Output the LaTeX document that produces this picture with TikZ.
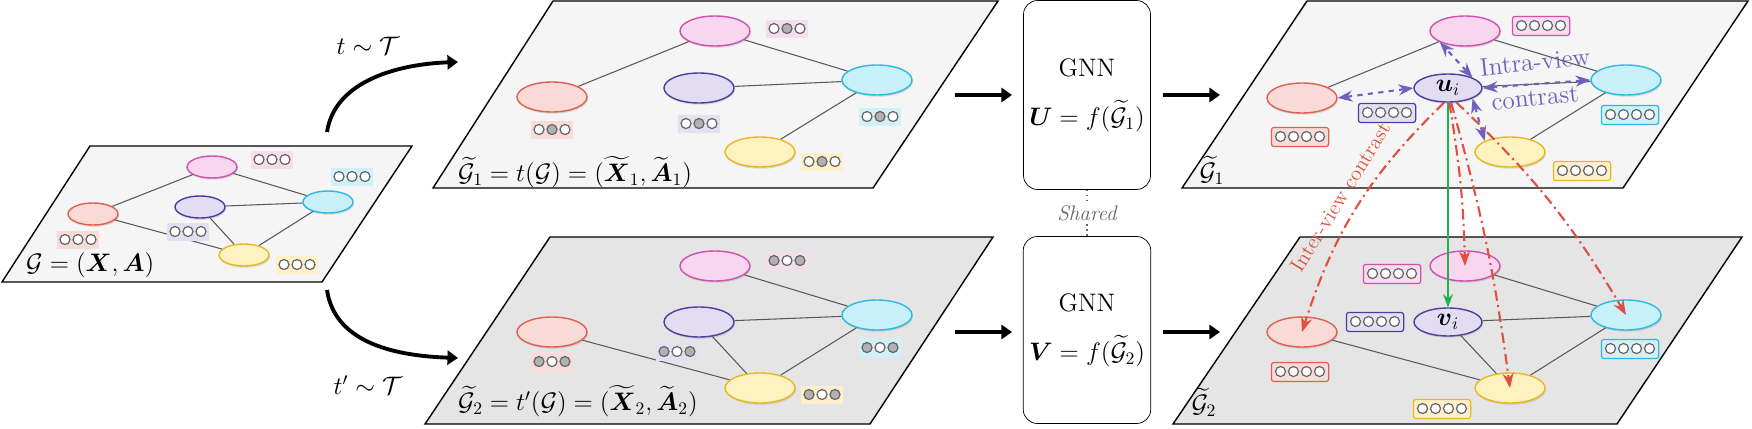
\documentclass[tikz,border=0pt]{standalone}
\usepackage{amsmath}
\usepackage{amssymb}
\usepackage{tikz}
\usetikzlibrary{arrows.meta, calc, shapes.geometric, shadows}

\definecolor{redB}{HTML}{E06050}   \definecolor{redF}{HTML}{FADAD6}  \definecolor{redL}{HTML}{F8DCDA}
\definecolor{pinkB}{HTML}{D050B0}  \definecolor{pinkF}{HTML}{F8D6EE} \definecolor{pinkL}{HTML}{F6DDEE}
\definecolor{purpB}{HTML}{4A3FA0}  \definecolor{purpF}{HTML}{E2DDF2} \definecolor{purpL}{HTML}{E4E0F0}
\definecolor{cyanB}{HTML}{30B8E0}  \definecolor{cyanF}{HTML}{C8F0FB} \definecolor{cyanL}{HTML}{D0F0FA}
\definecolor{yellB}{HTML}{E8B820}  \definecolor{yellF}{HTML}{FFF2C0} \definecolor{yellL}{HTML}{FFF0CC}
\definecolor{intraC}{HTML}{7060C0} \definecolor{interC}{HTML}{E05040} \definecolor{greenC}{HTML}{20B050}
\colorlet{w}{white} \colorlet{g}{black!30}

\newcommand\circrow[1]{\tikz[baseline=-0.6ex]\foreach \c [count=\k] in {#1} \draw[black!60, fill=\c, line width=0.7pt] (\k*0.26cm,0) circle (0.1cm);}

\tikzset{
  panel/.style={draw=black, line width=0.8pt},
  gnode/.style={ellipse, draw=#1B, fill=#1F, line width=0.8pt, minimum width=1.4cm, minimum height=0.6cm, inner sep=0pt,
    drop shadow={opacity=0.25, shadow xshift=0.5pt, shadow yshift=-1pt}},
  snode/.style={gnode=#1, minimum width=1cm, minimum height=0.44cm},
  feat/.style={fill=#1L, inner sep=1.5pt},
  featb/.style={draw=#1B, fill=#1L, rounded corners=1.5pt, line width=0.7pt, inner sep=2pt},
  edge/.style={black!65, line width=0.6pt},
  bigarrow/.style={line width=2.2pt, -{Triangle[length=6pt, width=8pt]}},
  intra/.style={intraC, dashed, line width=1.2pt, {Stealth}-{Stealth}},
  inter/.style={interC, line width=1.2pt, dash pattern=on 6pt off 2.5pt on 1.2pt off 2.5pt, -{Stealth}},
}

\begin{document}
\begin{tikzpicture}[x=0.02cm, y=-0.02cm, font=\Large]
\useasboundingbox (0,0) rectangle (1752,429);

% input graph
\draw[panel, fill=black!4] (90,146) -- (412,146) -- (322,282) -- (2,282) -- cycle;
\node[snode=pink] (p0) at (212,167) {};
\node[snode=red]  (r0) at (93,214) {};
\node[snode=purp] (m0) at (200,207) {};
\node[snode=cyan] (c0) at (328,202) {};
\node[snode=yell] (y0) at (244,255) {};
\draw[edge] (r0) -- (p0) (r0) -- (y0) (m0) -- (c0) (m0) -- (y0) (p0) -- (c0) (y0) -- (c0);
\node[feat=pink] at (272,160) {\circrow{w,w,w}};
\node[feat=red]  at (78,240)  {\circrow{w,w,w}};
\node[feat=purp] at (188,232) {\circrow{w,w,w}};
\node[feat=cyan] at (352,177) {\circrow{w,w,w}};
\node[feat=yell] at (297,265) {\circrow{w,w,w}};
\node[anchor=west] (t0) at (20,265) {$\mathcal{G} = (\boldsymbol{X}, \boldsymbol{A})$};

% augmentations
\coordinate (a1s) at (327,132); \coordinate (a1e) at (458,62);
\coordinate (a2s) at (327,290); \coordinate (a2e) at (458,358);
\draw[bigarrow] (a1s) .. controls (335,80) and (400,64) .. (a1e);
\draw[bigarrow] (a2s) .. controls (335,345) and (400,356) .. (a2e);
\node (ta) at (368,46) {$t \sim \mathcal{T}$};
\node (tb) at (368,385) {$t' \sim \mathcal{T}$};

% view 1
\draw[panel, fill=black!4] (553,1) -- (998,1) -- (873,188) -- (433,188) -- cycle;
\node[gnode=pink] (p1) at (715,31) {};
\node[gnode=red]  (r1) at (552,97) {};
\node[gnode=purp] (m1) at (699,88) {};
\node[gnode=cyan] (c1) at (877,80) {};
\node[gnode=yell] (y1) at (760,152) {};
\draw[edge] (r1) -- (p1) (p1) -- (c1) (m1) -- (c1) (y1) -- (c1);
\node[feat=pink] at (787,29)  {\circrow{w,g,w}};
\node[feat=red]  at (552,130) {\circrow{w,g,w}};
\node[feat=purp] at (699,124) {\circrow{w,g,w}};
\node[feat=cyan] at (880,117) {\circrow{w,g,w}};
\node[feat=yell] at (822,162) {\circrow{w,g,w}};
\node[anchor=west] (t1) at (452,172) {$\widetilde{\mathcal{G}}_1 = t(\mathcal{G}) = (\widetilde{\boldsymbol{X}}_1, \widetilde{\boldsymbol{A}}_1)$};

% view 2
\draw[panel, fill=black!10] (550,237) -- (993,237) -- (870,424) -- (425,424) -- cycle;
\node[gnode=pink] (p2) at (715,266) {};
\node[gnode=red]  (r2) at (552,332) {};
\node[gnode=purp] (m2) at (699,322) {};
\node[gnode=cyan] (c2) at (877,315) {};
\node[gnode=yell] (y2) at (760,388) {};
\draw[edge] (p2) -- (c2) (m2) -- (c2) (m2) -- (y2) (r2) -- (y2) (y2) -- (c2);
\node[feat=pink] at (787,261) {\circrow{g,w,g}};
\node[feat=red]  at (552,362) {\circrow{g,w,g}};
\node[feat=purp] at (677,352) {\circrow{g,w,g}};
\node[feat=cyan] at (880,348) {\circrow{g,w,g}};
\node[feat=yell] at (822,395) {\circrow{g,w,g}};
\node[anchor=west] (t2) at (452,401) {$\widetilde{\mathcal{G}}_2 = t'(\mathcal{G}) = (\widetilde{\boldsymbol{X}}_2, \widetilde{\boldsymbol{A}}_2)$};

% encoders
\coordinate (b1s) at (955,95);  \coordinate (b1e) at (1012,95);
\coordinate (b2s) at (955,332); \coordinate (b2e) at (1012,332);
\draw[bigarrow] (b1s) -- (b1e);
\draw[bigarrow] (b2s) -- (b2e);
\node[draw, rounded corners=8pt, minimum width=2.28cm, minimum height=3.78cm, align=center] (enc1) at (1087,95)
  {GNN\\[10pt] $\boldsymbol{U} = f(\widetilde{\mathcal{G}}_1)$};
\node[draw, rounded corners=8pt, minimum width=2.28cm, minimum height=3.74cm, align=center] (enc2) at (1087,330)
  {GNN\\[10pt] $\boldsymbol{V} = f(\widetilde{\mathcal{G}}_2)$};
\draw[black!60, dotted, line width=0.8pt] (enc1) -- (enc2) node[midway, fill=white, text=black!60, font=\large\itshape, inner sep=1pt] {Shared};
\coordinate (d1s) at (1163,95);  \coordinate (d1e) at (1220,95);
\coordinate (d2s) at (1163,332); \coordinate (d2e) at (1220,332);
\draw[bigarrow] (d1s) -- (d1e);
\draw[bigarrow] (d2s) -- (d2e);

% embeddings 1
\draw[panel, fill=black!4] (1307,1) -- (1748,1) -- (1623,188) -- (1182,188) -- cycle;
\node[gnode=pink] (p3) at (1465,31) {};
\node[gnode=red]  (r3) at (1302,98) {};
\node[gnode=purp, minimum width=1.36cm, minimum height=0.56cm] (u) at (1448,88) {$\boldsymbol{u}_i$};
\node[gnode=cyan] (c3) at (1626,80) {};
\node[gnode=yell] (y3) at (1510,152) {};
\draw[edge] (r3) -- (p3) (p3) -- (c3) (u) -- (c3) (y3) -- (c3);
\node[featb=pink] at (1541,26)  {\circrow{w,w,w,w}};
\node[featb=purp] at (1387,113) {\circrow{w,w,w,w}};
\node[featb=red]  at (1300,137) {\circrow{w,w,w,w}};
\node[featb=cyan] at (1630,115) {\circrow{w,w,w,w}};
\node[featb=yell] at (1582,171) {\circrow{w,w,w,w}};
\node (t3) at (1212,170) {$\widetilde{\mathcal{G}}_1$};

% embeddings 2
\draw[panel, fill=black!10] (1300,237) -- (1742,237) -- (1617,424) -- (1173,424) -- cycle;
\node[gnode=pink] (p4) at (1465,266) {};
\node[gnode=red]  (r4) at (1302,332) {};
\node[gnode=purp, minimum width=1.36cm, minimum height=0.56cm] (v) at (1448,322) {$\boldsymbol{v}_i$};
\node[gnode=cyan] (c4) at (1626,315) {};
\node[gnode=yell] (y4) at (1510,388) {};
\draw[edge] (p4) -- (c4) (v) -- (c4) (v) -- (y4) (r4) -- (y4) (y4) -- (c4);
\node[featb=pink] at (1392,274) {\circrow{w,w,w,w}};
\node[featb=purp] at (1375,322) {\circrow{w,w,w,w}};
\node[featb=red]  at (1300,372) {\circrow{w,w,w,w}};
\node[featb=cyan] at (1630,349) {\circrow{w,w,w,w}};
\node[featb=yell] at (1442,409) {\circrow{w,w,w,w}};
\node (t4) at (1204,402) {$\widetilde{\mathcal{G}}_2$};

% intra-view contrast
\draw[intra] (u.north east) -- (p3.south west);
\draw[intra] (u.west) -- (r3.east);
\draw[intra] (u.east) -- (c3.west);
\draw[intra] (u.south east) -- (y3.north west);
\node[intraC, rotate=6] (it1) at (1535,62) {Intra-view};
\node[intraC, rotate=6] (it2) at (1535,98) {contrast};

% inter-view contrast
\draw[greenC, line width=1pt, -{Stealth}] (u.south) -- (v.north);
\draw[inter] (u.-105) to[bend right=14] node[sloped, above=3pt, pos=0.5, font=\large] {Inter-view contrast} (r4.center);
\draw[inter] (u.-85) to[bend left=4] (p4.center);
\draw[inter] (u.-78) to[bend left=4] (y4.center);
\draw[inter] (u.-60) to[bend left=8] (c4.center);
\end{tikzpicture}
\end{document}
